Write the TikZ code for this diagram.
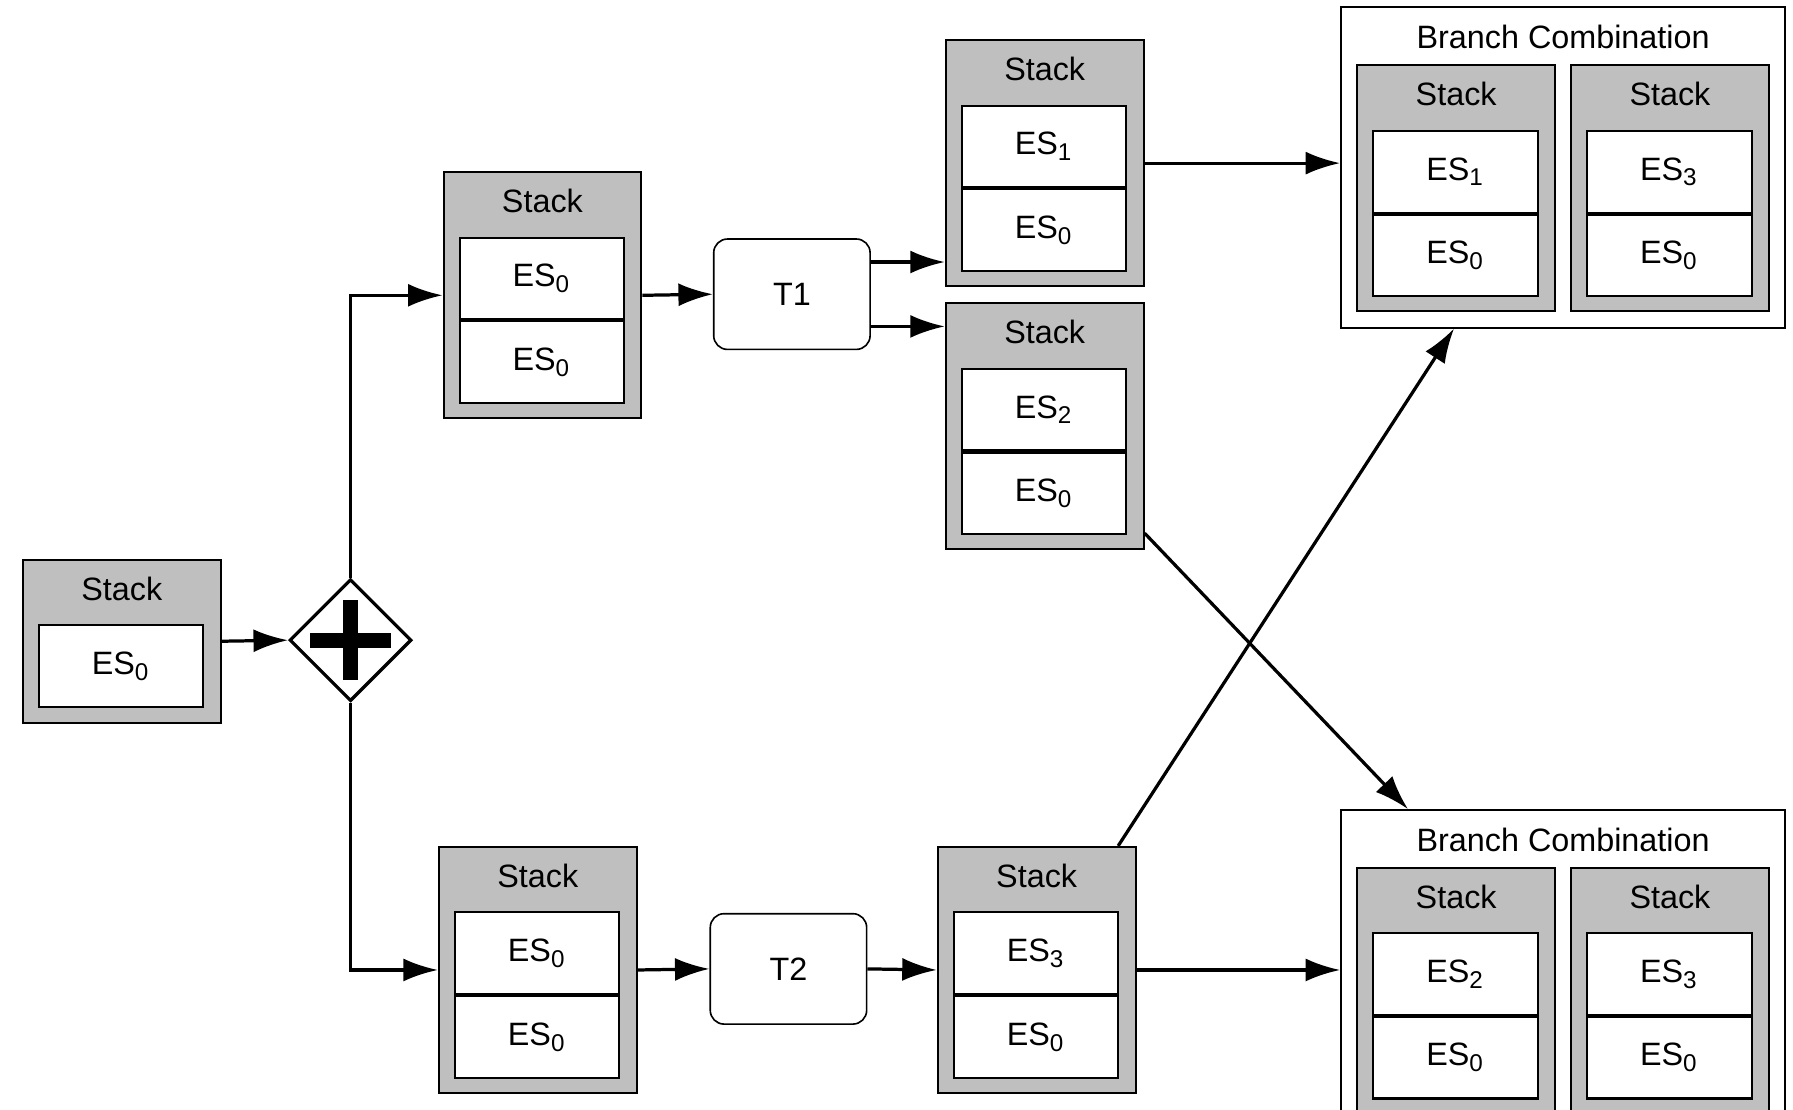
\documentclass[tikz,border=0pt]{standalone}
\usepackage{fontspec}
\setmainfont{Liberation Sans}
\usepackage{tikz}
\usetikzlibrary{arrows.meta,shapes.geometric}

\definecolor{boxgray}{HTML}{BFBFBF}

\tikzset{
  stack/.style={draw, fill=boxgray, line width=0.5pt, minimum width=1.72cm, anchor=north west, inner sep=0},
  es/.style={draw, fill=white, line width=0.5pt, minimum width=1.43cm, minimum height=0.71cm, anchor=north west, inner sep=0},
  task/.style={draw, fill=white, rounded corners=0.12cm, minimum width=1.36cm, minimum height=0.96cm, inner sep=0},
  combo/.style={draw, fill=white, line width=0.5pt, minimum width=3.86cm, anchor=north west, inner sep=0},
  flow/.style={-{Latex[length=0.3cm,width=0.2cm]}, line width=0.8pt},
}

% stack with two entries: name, x, y, upper entry, lower entry
\newcommand{\stacktwo}[5]{%
  \node[stack, minimum height=2.14cm] (#1) at (#2,#3) {};
  \node at ([yshift=-0.26cm]#1.north) {Stack};
  \node[es] (#1-a) at ([xshift=0.14cm,yshift=-0.57cm]#1.north west) {#4};
  \node[es] (#1-b) at (#1-a.south west) {#5};
}

\begin{document}
\begin{tikzpicture}[x=0.01cm, y=-0.01cm, font=\fontsize{8}{9}\selectfont]
  \useasboundingbox[fill=white] (0,0) rectangle (1560,965);

  % start stack
  \node[stack, minimum height=1.42cm] (s0) at (19,486) {};
  \node at ([yshift=-0.26cm]s0.north) {Stack};
  \node[es] (s0-a) at ([xshift=0.14cm,yshift=-0.57cm]s0.north west) {ES\textsubscript{0}};

  % parallel split
  \node[draw, diamond, fill=white, line width=0.8pt, minimum size=1.06cm, inner sep=0] (split) at (305,557) {};
  \fill (split.center) ++(-0.35cm,-0.065cm) rectangle ++(0.7cm,0.13cm);
  \fill (split.center) ++(-0.065cm,-0.35cm) rectangle ++(0.13cm,0.7cm);

  % upper branch
  \stacktwo{s1}{385}{149}{ES\textsubscript{0}}{ES\textsubscript{0}}
  \node[task] (t1) at (689,256) {T1};
  \stacktwo{s2}{822}{34}{ES\textsubscript{1}}{ES\textsubscript{0}}
  \stacktwo{s3}{822}{263}{ES\textsubscript{2}}{ES\textsubscript{0}}

  % lower branch
  \stacktwo{s4}{381}{736}{ES\textsubscript{0}}{ES\textsubscript{0}}
  \node[task] (t2) at (686,843) {T2};
  \stacktwo{s5}{815}{736}{ES\textsubscript{3}}{ES\textsubscript{0}}

  % branch combinations
  \node[combo, minimum height=2.79cm] (bc1) at (1166,5) {};
  \node at ([yshift=-0.27cm]bc1.north) {Branch Combination};
  \stacktwo{b1}{1180}{56}{ES\textsubscript{1}}{ES\textsubscript{0}}
  \stacktwo{b2}{1366}{56}{ES\textsubscript{3}}{ES\textsubscript{0}}

  \node[combo, minimum height=2.75cm] (bc2) at (1166,704) {};
  \node at ([yshift=-0.27cm]bc2.north) {Branch Combination};
  \stacktwo{b3}{1180}{754}{ES\textsubscript{2}}{ES\textsubscript{0}}
  \stacktwo{b4}{1366}{754}{ES\textsubscript{3}}{ES\textsubscript{0}}

  % connectors
  \draw[flow] (s0.east) -- (split.west);
  \draw[flow] (split.north) |- (s1.west);
  \draw[flow] (split.south) |- (s4.west);
  \draw[flow] (s1.east) -- (t1.west);
  \draw[flow] ([yshift=0.28cm]t1.east) -- ([yshift=0.28cm]t1.east -| s2.west);
  \draw[flow] ([yshift=-0.28cm]t1.east) -- ([yshift=-0.28cm]t1.east -| s3.west);
  \draw[flow] (s2.east) -- (s2.east -| bc1.west);
  \draw[flow] (s4.east) -- (t2.west);
  \draw[flow] (t2.east) -- (s5.west);
  \draw[flow] (s5.east) -- (s5.east -| bc2.west);
  \draw[flow] ([yshift=0.15cm]s3.south east) -- ([xshift=0.59cm]bc2.north west);
  \draw[flow] ([xshift=-0.16cm]s5.north east) -- ([xshift=0.99cm]bc1.south west);
\end{tikzpicture}
\end{document}
